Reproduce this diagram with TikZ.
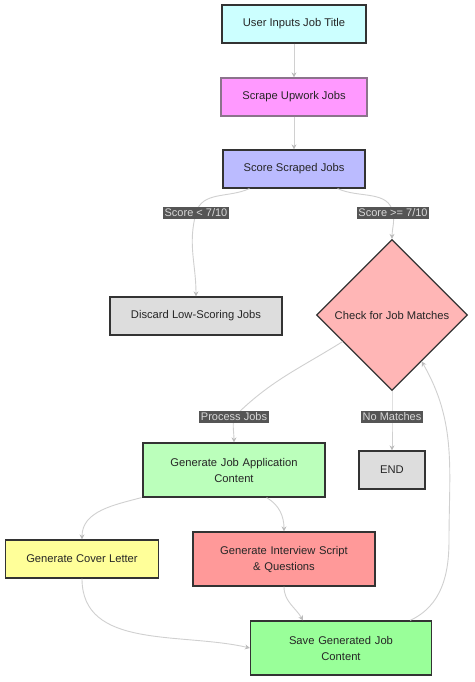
\documentclass[tikz,border=0pt]{standalone}
\usepackage{fontspec}
\setmainfont{Liberation Sans}
\usetikzlibrary{shapes.geometric,arrows.meta,calc}

\definecolor{edgegray}{HTML}{D0D0D0}
\definecolor{tipgray}{HTML}{BBBBBB}
\definecolor{lblfill}{HTML}{555555}
\definecolor{lbltext}{HTML}{D8D8D8}
\definecolor{boxline}{HTML}{333333}

\tikzset{
  stepbox/.style={draw=boxline, line width=1.2pt, minimum height=38pt, align=center,
    inner sep=2pt, font=\fontsize{11.2}{16}\selectfont, text=black!85},
  flow/.style={draw=edgegray, line width=0.9pt, -{Stealth[length=5pt,width=5pt,color=tipgray]}},
  edgelbl/.style={fill=lblfill, text=lbltext, inner sep=1.6pt, font=\fontsize{11}{13}\selectfont}
}

\begin{document}
\begin{tikzpicture}[x=1pt, y=-1pt]
    \useasboundingbox[fill=white] (0,0) rectangle (474,682);

    % Top of the pipeline
    \node[stepbox, fill={rgb,255:red,204;green,255;blue,255}, minimum width=144pt] (input) at (294,24) {User Inputs Job Title};
    \node[stepbox, fill={rgb,255:red,255;green,153;blue,255}, draw={rgb,255:red,140;green,115;blue,140}, minimum width=146pt] (scrape) at (294,97) {Scrape Upwork Jobs};
    \node[stepbox, fill={rgb,255:red,187;green,187;blue,255}, minimum width=142pt] (score) at (294,169) {Score Scraped Jobs};

    % Scoring split
    \node[stepbox, fill={rgb,255:red,221;green,221;blue,221}, minimum width=172pt] (discard) at (196,316) {Discard Low-Scoring Jobs};
    \node[diamond, draw=boxline, line width=1.2pt, fill={rgb,255:red,255;green,182;blue,182}, minimum width=151pt, minimum height=151pt, inner sep=0pt,
      font=\fontsize{11.2}{16}\selectfont, text=black!85] (check) at (392,315) {Check for Job Matches};

    % Matching branch
    \node[stepbox, fill={rgb,255:red,187;green,255;blue,187}, minimum width=182pt, minimum height=54pt, text width=170pt] (genapp) at (234,470) {Generate Job Application\\Content};
    \node[stepbox, fill={rgb,255:red,221;green,221;blue,221}, minimum width=66pt] (finish) at (392,470) {END};
    \node[stepbox, fill={rgb,255:red,255;green,255;blue,153}, minimum width=153pt] (cover) at (82,559) {Generate Cover Letter};
    \node[stepbox, fill={rgb,255:red,255;green,153;blue,153}, minimum width=182pt, minimum height=54pt, text width=170pt] (interview) at (284,559) {Generate Interview Script\\\& Questions};
    \node[stepbox, fill={rgb,255:red,153;green,255;blue,153}, minimum width=181pt, minimum height=54pt, text width=170pt] (save) at (341,648) {Save Generated Job\\Content};

    % Edge label anchors
    \coordinate (lowpt) at (196,213);
    \coordinate (highpt) at (393,213);
    \coordinate (procpt) at (234,417);
    \coordinate (nopt) at (392,417);
    \coordinate (backin) at ($(check.south)!0.39!(check.east)$);

    % Connectors
    \draw[flow] (input) -- (scrape);
    \draw[flow] (scrape) -- (score);
    \draw[flow] ([xshift=27pt]score.south west) to[out=-155,in=75] (lowpt) to[out=-105,in=90] (discard.north);
    \draw[flow] ([xshift=-28pt]score.south east) to[out=-25,in=100] (highpt) to[out=-80,in=90] (check.north);
    \draw[flow] ($(check.south)!0.65!(check.west)$) to[out=-148,in=45] (procpt) to[out=-100,in=90] (genapp.north);
    \draw[flow] (check.south) -- (nopt) -- (finish.north);
    \draw[flow] ([xshift=-1pt]genapp.south west) to[out=-165,in=90] (cover.north);
    \draw[flow] ([xshift=-59pt]genapp.south east) to[out=-30,in=90] (interview.north);
    \draw[flow] (cover.south) to[out=-90,in=167] (save.west);
    \draw[flow] (interview.south) to[out=-90,in=120] ([xshift=-38pt]save.north);
    \draw[flow] ([xshift=-22pt]save.north east) to[out=25,in=-90] (449,540) to[out=90,in=-60] (backin);

    % Edge labels
    \node[edgelbl] (lowlbl) at (lowpt) {Score < 7/10};
    \node[edgelbl] (highlbl) at (highpt) {Score >= 7/10};
    \node[edgelbl] (proclbl) at (procpt) {Process Jobs};
    \node[edgelbl] (nolbl) at (nopt) {No Matches};
\end{tikzpicture}
\end{document}
